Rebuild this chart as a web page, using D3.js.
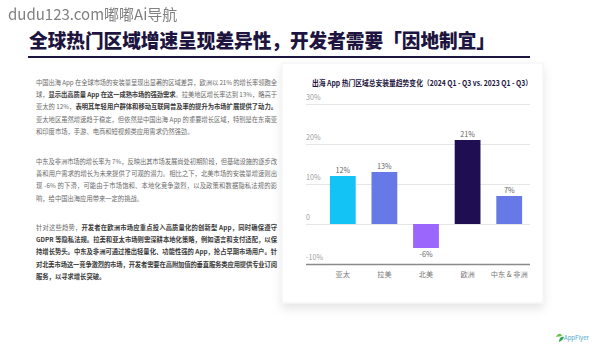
<!DOCTYPE html>
<html><head><meta charset="utf-8">
<script src="https://cdn.jsdelivr.net/npm/d3@7"></script>
<style>
body{margin:0;background:#fff}
svg{display:block}
text{font-family:"Noto Sans CJK SC","Noto Sans",sans-serif}
</style>
</head><body>
<svg id="c" width="600" height="360"></svg>
<script>
// ---- data ----
const categories = ["亚太", "拉美", "北美", "欧洲", "中东 & 非洲"];
const growth = [12, 13, -6, 21, 7];
const barColors = ["#14c3f6", "#6679e6", "#9b66fb", "#200e52", "#6679e6"];
const yTicks = [-10, 0, 10, 20, 30];
const yTickLabels = ["-10%", "0", "10%", "20%", "30%"];
const pageTitle = "全球热门区域增速呈现差异性，开发者需要「因地制宜」";
const chartTitle = "出海 App 热门区域总安装量趋势变化（2024 Q1 - Q3 vs. 2023 Q1 - Q3）";
const watermark = "dudu123.com嘟嘟Ai导航";
const para1 = [
  [["中国出海 App 在全球市场的安装量呈现出显著的区域差异，欧洲以 21% 的增长率领跑全", 0]],
  [["球，", 0], ["显示出高质量 App 在这一成熟市场的强劲需求", 1], ["。拉美地区增长率达到 13%，略高于", 0]],
  [["亚太的 12%，", 0], ["表明其年轻用户群体和移动互联网普及率的提升为市场扩展提供了动力。", 1]],
  [["亚太地区虽然增速趋于稳定，但依然是中国出海 App 的重要增长区域，特别是在东南亚", 0]],
  [["和印度市场，手游、电商和短视频类应用需求仍然强劲。", 0]]
];
const para2 = [
  [["中东及非洲市场的增长率为 7%，反映出其市场发展尚处初期阶段，但基础设施的逐步改", 0]],
  [["善和用户需求的增长为未来提供了可观的潜力。相比之下，北美市场的安装量增速则出", 0]],
  [["现 -6% 的下滑，可能由于市场饱和、本地化竞争激烈，以及政策和数据隐私法规的影", 0]],
  [["响，给中国出海应用带来一定的挑战。", 0]]
];
const para3 = [
  [["针对这些趋势，", 0], ["开发者在欧洲市场应重点投入高质量化的创新型 App，同时确保遵守", 1]],
  [["GDPR 等隐私法规。拉美和亚太市场则需深耕本地化策略，例如语言和支付适配，以保", 1]],
  [["持增长势头。中东及非洲可通过推出轻量化、功能性强的 App，抢占早期市场用户。针", 1]],
  [["对北美市场这一竞争激烈的市场，开发者需要在高附加值的垂直服务类应用提供专业订阅", 1]],
  [["服务，以寻求增长突破。", 1]]
];

// ---- drawing ----
const svg = d3.select("#c");
const defs = svg.append("defs");
const f = defs.append("filter").attr("id", "sh").attr("x", "-10%").attr("y", "-10%").attr("width", "120%").attr("height", "130%");
f.append("feDropShadow").attr("dx", 0).attr("dy", 5).attr("stdDeviation", 5)
  .attr("flood-color", "#000").attr("flood-opacity", 0.10);

// watermark
svg.append("text").attr("x", 8).attr("y", 20)
  .attr("font-size", 15).attr("fill", "#6a6a6a").attr("opacity", 0.85)
  .text(watermark);

// page title
svg.append("text").attr("x", 29).attr("y", 48)
  .attr("font-size", 19.5).attr("font-weight", 900).attr("fill", "#1d1540")
  .attr("textLength", 466).attr("lengthAdjust", "spacingAndGlyphs")
  .text(pageTitle);
svg.append("line").attr("x1", 28).attr("x2", 530).attr("y1", 57).attr("y2", 57)
  .attr("stroke", "#1d1540").attr("stroke-width", 2);

// left paragraphs
const leftX = 36, rightX = 277, lh = 12.2;
function drawPara(lines, y0) {
  lines.forEach((segs, i) => {
    const t = svg.append("text").attr("x", leftX).attr("y", y0 + i * lh)
      .attr("font-size", 6.3).attr("fill", "#6b6b6b");
    segs.forEach(([s, b]) => {
      t.append("tspan").text(s)
        .attr("font-weight", b ? 700 : 400)
        .attr("fill", b ? "#3a3a3a" : "#6b6b6b");
    });
    if (i < lines.length - 1) {
      const n = segs.map(d => d[0]).join("").length;
      const w = t.node().getComputedTextLength();
      const ls = (rightX - leftX - w) / (n - 1);
      t.attr("letter-spacing", ls);
    }
  });
}
drawPara(para1, 85);
drawPara(para2, 164);
drawPara(para3, 230);

// chart card
svg.append("rect").attr("x", 282).attr("y", 63).attr("width", 261).attr("height", 240)
  .attr("fill", "#fff").attr("stroke", "#f1f1f1").attr("filter", "url(#sh)");

svg.append("text").attr("x", 312).attr("y", 86)
  .attr("font-size", 7.6).attr("font-weight", 700).attr("fill", "#1d1540")
  .attr("textLength", 220).attr("lengthAdjust", "spacingAndGlyphs")
  .text(chartTitle);

const y = d3.scaleLinear().domain([-10, 30]).range([264, 104]);
const x = d3.scaleBand().domain(categories).range([322, 530]).paddingInner(0.38).paddingOuter(0.19);
const gx0 = 306, gx1 = 530;

// gridlines + labels
const yAxis = d3.axisLeft(y).tickValues(yTicks).tickSize(0).tickFormat((d, i) => yTickLabels[i]);
const ga = svg.append("g").call(yAxis);
ga.select(".domain").remove();
ga.selectAll(".tick text").attr("x", gx0).attr("dy", -4.5).attr("text-anchor", "start")
  .attr("font-size", 7.2).attr("fill", "#a0a0a0").attr("font-family", null);
ga.selectAll(".tick").append("line").attr("x1", gx0).attr("x2", gx1)
  .attr("stroke", d => d === -10 ? "#8a8a8a" : "#e6e6e6")
  .attr("stroke-width", d => d === -10 ? 1.4 : 1);

// bars
svg.append("g").selectAll("rect").data(growth).join("rect")
  .attr("x", (d, i) => x(categories[i]))
  .attr("width", x.bandwidth())
  .attr("y", d => y(Math.max(0, d)))
  .attr("height", d => Math.abs(y(d) - y(0)))
  .attr("fill", (d, i) => barColors[i]);

// value labels
svg.append("g").selectAll("text").data(growth).join("text")
  .attr("x", (d, i) => x(categories[i]) + x.bandwidth() / 2)
  .attr("y", d => d >= 0 ? y(d) - 3 : y(d) + 8.5)
  .attr("text-anchor", "middle").attr("font-size", 7.2).attr("fill", "#666")
  .text(d => d + "%");

// x axis labels
const xAxis = d3.axisBottom(x).tickSize(0);
const gxa = svg.append("g").attr("transform", "translate(0,264)").call(xAxis);
gxa.select(".domain").remove();
gxa.selectAll(".tick text").attr("dy", 9.8).attr("font-size", 7.2).attr("fill", "#777").attr("font-family", null);

// logo
const lg = svg.append("g").attr("transform", "translate(556,333)");
lg.append("path").attr("d", "M0,4 C2,0 5,0 6,3 C4,3 2,4 0,4Z").attr("fill", "#6cc04a");
lg.append("path").attr("d", "M3,9 C3,5 5,3 8,4 C7,7 5,8 3,9Z").attr("fill", "#2fa84f");
lg.append("text").attr("x", 8).attr("y", 7).attr("font-size", 6).attr("fill", "#4aa6c9").text("AppFlyer");
</script>
</body></html>
